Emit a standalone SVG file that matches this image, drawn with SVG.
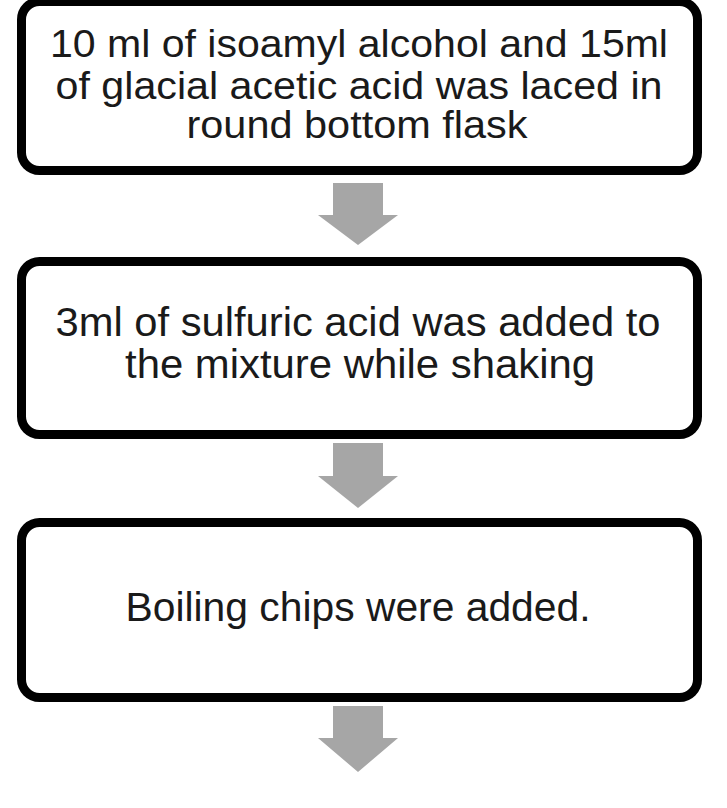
<svg xmlns="http://www.w3.org/2000/svg" width="727" height="808" viewBox="0 0 727 808">
<style>
.box{fill:#ffffff;stroke:#000000;stroke-width:9}
.t{font-family:"Liberation Sans",Arial,sans-serif;font-size:40px;fill:#1a1a1a;text-anchor:middle}
.s{font-size:38px}
.arr{fill:#a6a6a6}
</style>
<rect x="0" y="0" width="727" height="808" fill="#ffffff"/>
<g id="node1">
<rect class="box" x="21.5" y="1.5" width="676" height="169" rx="18"/>
<text class="t s" x="359" y="57" textLength="618" lengthAdjust="spacingAndGlyphs">10 ml of isoamyl alcohol and 15ml</text>
<text class="t s" x="359" y="99" textLength="607" lengthAdjust="spacingAndGlyphs">of glacial acetic acid was laced in</text>
<text class="t s" x="357" y="138" textLength="341" lengthAdjust="spacingAndGlyphs">round bottom flask</text>
</g>
<g id="node2">
<rect class="box" x="21.5" y="261.5" width="676" height="173" rx="18"/>
<text class="t" x="358" y="336" textLength="605" lengthAdjust="spacingAndGlyphs">3ml of sulfuric acid was added to</text>
<text class="t" x="360" y="378" textLength="470" lengthAdjust="spacingAndGlyphs">the mixture while shaking</text>
</g>
<g id="node3">
<rect class="box" x="21.5" y="522.5" width="676" height="175" rx="18"/>
<text class="t" x="358" y="621" textLength="465" lengthAdjust="spacingAndGlyphs">Boiling chips were added.</text>
</g>
<g id="connectors">
<polygon class="arr" points="333,183 383,183 383,215 398,215 358,245 318,215 333,215"/>
<polygon class="arr" points="333,443 383,443 383,476 398,476 358,508 318,476 333,476"/>
<polygon class="arr" points="333,706 383,706 383,738 398,738 358,772 318,738 333,738"/>
</g>
</svg>
